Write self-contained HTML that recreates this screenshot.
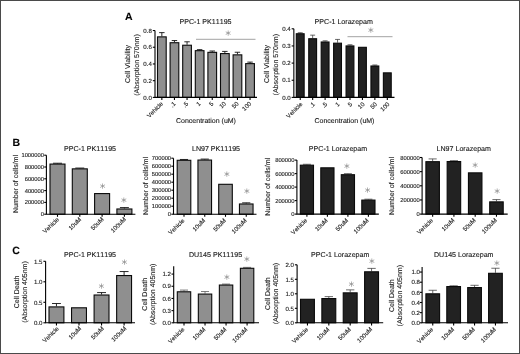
<!DOCTYPE html>
<html><head><meta charset="utf-8"><title>Figure</title>
<style>
html,body{margin:0;padding:0;background:#fff;}
body{width:520px;height:354px;overflow:hidden;position:relative;}
text.t{stroke:#1a1a1a;stroke-width:0.12px;}
svg{text-rendering:geometricPrecision;font-kerning:none;display:block;position:absolute;left:0;top:0;font-family:'Liberation Sans', Arial, sans-serif;}
.frame{position:absolute;left:0;top:0;width:518px;height:352px;border:1px solid #4a4a4a;border-left-width:1px;}
</style></head><body>
<svg width="520" height="354" viewBox="0 0 520 354" font-family='"Liberation Sans", Arial, sans-serif'>
<path d="M161.85 36.37V32.61M159.13 32.61H164.57" stroke="#111" stroke-width="0.9" fill="none"/>
<rect x="157.50" y="36.87" width="8.70" height="60.53" fill="#8f8f8f" stroke="#0a0a0a" stroke-width="1.1"/>
<path d="M174.45 42.22V40.55M171.73 40.55H177.17" stroke="#111" stroke-width="0.9" fill="none"/>
<rect x="170.10" y="42.72" width="8.70" height="54.68" fill="#8f8f8f" stroke="#0a0a0a" stroke-width="1.1"/>
<path d="M187.05 44.73V41.81M184.33 41.81H189.77" stroke="#111" stroke-width="0.9" fill="none"/>
<rect x="182.70" y="45.23" width="8.70" height="52.17" fill="#8f8f8f" stroke="#0a0a0a" stroke-width="1.1"/>
<path d="M199.65 50.17V49.66M196.93 49.66H202.37" stroke="#111" stroke-width="0.9" fill="none"/>
<rect x="195.30" y="50.67" width="8.70" height="46.73" fill="#8f8f8f" stroke="#0a0a0a" stroke-width="1.1"/>
<path d="M212.25 51.84V51.00M209.53 51.00H214.97" stroke="#111" stroke-width="0.9" fill="none"/>
<rect x="207.90" y="52.34" width="8.70" height="45.06" fill="#8f8f8f" stroke="#0a0a0a" stroke-width="1.1"/>
<path d="M224.85 53.09V51.42M222.13 51.42H227.57" stroke="#111" stroke-width="0.9" fill="none"/>
<rect x="220.50" y="53.59" width="8.70" height="43.81" fill="#8f8f8f" stroke="#0a0a0a" stroke-width="1.1"/>
<path d="M237.45 54.35V52.26M234.73 52.26H240.17" stroke="#111" stroke-width="0.9" fill="none"/>
<rect x="233.10" y="54.85" width="8.70" height="42.55" fill="#8f8f8f" stroke="#0a0a0a" stroke-width="1.1"/>
<path d="M250.05 63.12V62.12M247.33 62.12H252.77" stroke="#111" stroke-width="0.9" fill="none"/>
<rect x="245.70" y="63.62" width="8.70" height="33.78" fill="#8f8f8f" stroke="#0a0a0a" stroke-width="1.1"/>
<path d="M155 30.52V97.4H257" stroke="#000" stroke-width="1.1" fill="none"/>
<path d="M152.80 97.40H155" stroke="#000" stroke-width="1.1"/>
<text x="151.8" y="99.6" font-size="6.1" text-anchor="end" font-weight="normal" fill="#1a1a1a" class="t">0.0</text>
<path d="M152.80 80.68H155" stroke="#000" stroke-width="1.1"/>
<text x="151.8" y="82.88" font-size="6.1" text-anchor="end" font-weight="normal" fill="#1a1a1a" class="t">0.2</text>
<path d="M152.80 63.96H155" stroke="#000" stroke-width="1.1"/>
<text x="151.8" y="66.16" font-size="6.1" text-anchor="end" font-weight="normal" fill="#1a1a1a" class="t">0.4</text>
<path d="M152.80 47.24H155" stroke="#000" stroke-width="1.1"/>
<text x="151.8" y="49.44" font-size="6.1" text-anchor="end" font-weight="normal" fill="#1a1a1a" class="t">0.6</text>
<path d="M152.80 30.52H155" stroke="#000" stroke-width="1.1"/>
<text x="151.8" y="32.72" font-size="6.1" text-anchor="end" font-weight="normal" fill="#1a1a1a" class="t">0.8</text>
<path d="M161.85 97.4V100.0" stroke="#000" stroke-width="1.1"/>
<text x="163.45" y="104.1" font-size="6.05" text-anchor="end" font-weight="normal" fill="#1a1a1a" transform="rotate(-45 163.45 104.1)" class="t">Vehicle</text>
<path d="M174.45 97.4V100.0" stroke="#000" stroke-width="1.1"/>
<text x="176.05" y="104.1" font-size="6.05" text-anchor="end" font-weight="normal" fill="#1a1a1a" transform="rotate(-45 176.05 104.1)" class="t">.1</text>
<path d="M187.05 97.4V100.0" stroke="#000" stroke-width="1.1"/>
<text x="188.65" y="104.1" font-size="6.05" text-anchor="end" font-weight="normal" fill="#1a1a1a" transform="rotate(-45 188.65 104.1)" class="t">.5</text>
<path d="M199.65 97.4V100.0" stroke="#000" stroke-width="1.1"/>
<text x="201.25" y="104.1" font-size="6.05" text-anchor="end" font-weight="normal" fill="#1a1a1a" transform="rotate(-45 201.25 104.1)" class="t">1</text>
<path d="M212.25 97.4V100.0" stroke="#000" stroke-width="1.1"/>
<text x="213.85" y="104.1" font-size="6.05" text-anchor="end" font-weight="normal" fill="#1a1a1a" transform="rotate(-45 213.85 104.1)" class="t">5</text>
<path d="M224.85 97.4V100.0" stroke="#000" stroke-width="1.1"/>
<text x="226.45" y="104.1" font-size="6.05" text-anchor="end" font-weight="normal" fill="#1a1a1a" transform="rotate(-45 226.45 104.1)" class="t">10</text>
<path d="M237.45 97.4V100.0" stroke="#000" stroke-width="1.1"/>
<text x="239.05" y="104.1" font-size="6.05" text-anchor="end" font-weight="normal" fill="#1a1a1a" transform="rotate(-45 239.05 104.1)" class="t">50</text>
<path d="M250.05 97.4V100.0" stroke="#000" stroke-width="1.1"/>
<text x="251.65" y="104.1" font-size="6.05" text-anchor="end" font-weight="normal" fill="#1a1a1a" transform="rotate(-45 251.65 104.1)" class="t">100</text>
<text x="205.5" y="23.5" font-size="7.1" text-anchor="middle" font-weight="normal" fill="#1a1a1a" class="t">PPC-1 PK11195</text>
<text x="130.0" y="64" font-size="7" text-anchor="middle" font-weight="normal" fill="#1a1a1a" transform="rotate(-90 130.0 64)" class="t">Cell Viability</text>
<text x="138.5" y="65" font-size="7" text-anchor="middle" font-weight="normal" fill="#1a1a1a" transform="rotate(-90 138.5 65)" class="t">(Absorption 570nm)</text>
<text x="228" y="39.0" font-size="11.5" text-anchor="middle" font-weight="normal" fill="#8a8a8a" font-family="DejaVu Sans, sans-serif">*</text>
<path d="M196 39.3H255.5" stroke="#8a8a8a" stroke-width="0.8"/>
<text x="206" y="123" font-size="7" text-anchor="middle" font-weight="normal" fill="#1a1a1a" class="t">Concentration (uM)</text>
<path d="M300.23 33.26V32.74M297.75 32.74H302.70" stroke="#3a3a3a" stroke-width="0.75" fill="none"/>
<rect x="296.30" y="33.76" width="7.85" height="63.64" fill="#222222" stroke="#0a0a0a" stroke-width="1.1"/>
<path d="M312.67 38.23V35.15M310.19 35.15H315.14" stroke="#3a3a3a" stroke-width="0.75" fill="none"/>
<rect x="308.74" y="38.73" width="7.85" height="58.67" fill="#222222" stroke="#0a0a0a" stroke-width="1.1"/>
<path d="M325.11 41.49V40.81M322.63 40.81H327.58" stroke="#3a3a3a" stroke-width="0.75" fill="none"/>
<rect x="321.18" y="41.99" width="7.85" height="55.41" fill="#222222" stroke="#0a0a0a" stroke-width="1.1"/>
<path d="M337.55 42.69V39.43M335.07 39.43H340.02" stroke="#3a3a3a" stroke-width="0.75" fill="none"/>
<rect x="333.62" y="43.19" width="7.85" height="54.21" fill="#222222" stroke="#0a0a0a" stroke-width="1.1"/>
<path d="M349.99 45.44V44.75M347.51 44.75H352.46" stroke="#3a3a3a" stroke-width="0.75" fill="none"/>
<rect x="346.06" y="45.94" width="7.85" height="51.46" fill="#222222" stroke="#0a0a0a" stroke-width="1.1"/>
<rect x="358.50" y="47.31" width="7.85" height="50.09" fill="#222222" stroke="#0a0a0a" stroke-width="1.1"/>
<path d="M374.87 65.50V64.99M372.39 64.99H377.34" stroke="#3a3a3a" stroke-width="0.75" fill="none"/>
<rect x="370.94" y="66.00" width="7.85" height="31.40" fill="#222222" stroke="#0a0a0a" stroke-width="1.1"/>
<rect x="383.38" y="72.86" width="7.85" height="24.54" fill="#222222" stroke="#0a0a0a" stroke-width="1.1"/>
<path d="M293.85 28.80V97.4H394.5" stroke="#000" stroke-width="1.1" fill="none"/>
<path d="M291.65 97.40H293.85" stroke="#000" stroke-width="1.1"/>
<text x="290.65" y="99.6" font-size="6.1" text-anchor="end" font-weight="normal" fill="#1a1a1a" class="t">0.0</text>
<path d="M291.65 80.25H293.85" stroke="#000" stroke-width="1.1"/>
<text x="290.65" y="82.45" font-size="6.1" text-anchor="end" font-weight="normal" fill="#1a1a1a" class="t">0.1</text>
<path d="M291.65 63.10H293.85" stroke="#000" stroke-width="1.1"/>
<text x="290.65" y="65.3" font-size="6.1" text-anchor="end" font-weight="normal" fill="#1a1a1a" class="t">0.2</text>
<path d="M291.65 45.95H293.85" stroke="#000" stroke-width="1.1"/>
<text x="290.65" y="48.15" font-size="6.1" text-anchor="end" font-weight="normal" fill="#1a1a1a" class="t">0.3</text>
<path d="M291.65 28.80H293.85" stroke="#000" stroke-width="1.1"/>
<text x="290.65" y="31.0" font-size="6.1" text-anchor="end" font-weight="normal" fill="#1a1a1a" class="t">0.4</text>
<path d="M300.23 97.4V100.0" stroke="#000" stroke-width="1.1"/>
<text x="302.83" y="104.6" font-size="6.05" text-anchor="end" font-weight="normal" fill="#1a1a1a" transform="rotate(-45 302.83 104.6)" class="t">Vehicle</text>
<path d="M312.67 97.4V100.0" stroke="#000" stroke-width="1.1"/>
<text x="315.27" y="104.6" font-size="6.05" text-anchor="end" font-weight="normal" fill="#1a1a1a" transform="rotate(-45 315.27 104.6)" class="t">.1</text>
<path d="M325.11 97.4V100.0" stroke="#000" stroke-width="1.1"/>
<text x="327.71" y="104.6" font-size="6.05" text-anchor="end" font-weight="normal" fill="#1a1a1a" transform="rotate(-45 327.71 104.6)" class="t">.5</text>
<path d="M337.55 97.4V100.0" stroke="#000" stroke-width="1.1"/>
<text x="340.15" y="104.6" font-size="6.05" text-anchor="end" font-weight="normal" fill="#1a1a1a" transform="rotate(-45 340.15 104.6)" class="t">1</text>
<path d="M349.99 97.4V100.0" stroke="#000" stroke-width="1.1"/>
<text x="352.59" y="104.6" font-size="6.05" text-anchor="end" font-weight="normal" fill="#1a1a1a" transform="rotate(-45 352.59 104.6)" class="t">5</text>
<path d="M362.43 97.4V100.0" stroke="#000" stroke-width="1.1"/>
<text x="365.03" y="104.6" font-size="6.05" text-anchor="end" font-weight="normal" fill="#1a1a1a" transform="rotate(-45 365.03 104.6)" class="t">10</text>
<path d="M374.87 97.4V100.0" stroke="#000" stroke-width="1.1"/>
<text x="377.47" y="104.6" font-size="6.05" text-anchor="end" font-weight="normal" fill="#1a1a1a" transform="rotate(-45 377.47 104.6)" class="t">50</text>
<path d="M387.31 97.4V100.0" stroke="#000" stroke-width="1.1"/>
<text x="389.91" y="104.6" font-size="6.05" text-anchor="end" font-weight="normal" fill="#1a1a1a" transform="rotate(-45 389.91 104.6)" class="t">100</text>
<text x="343.75" y="23.5" font-size="7.1" text-anchor="middle" font-weight="normal" fill="#1a1a1a" class="t">PPC-1 Lorazepam</text>
<text x="269.4" y="64" font-size="7" text-anchor="middle" font-weight="normal" fill="#1a1a1a" transform="rotate(-90 269.4 64)" class="t">Cell Viability</text>
<text x="277.8" y="64.7" font-size="7" text-anchor="middle" font-weight="normal" fill="#1a1a1a" transform="rotate(-90 277.8 64.7)" class="t">(Absorption 570nm)</text>
<text x="370.8" y="35.5" font-size="11.5" text-anchor="middle" font-weight="normal" fill="#8a8a8a" font-family="DejaVu Sans, sans-serif">*</text>
<path d="M347.5 36.7H392.5" stroke="#8a8a8a" stroke-width="0.8"/>
<text x="344.5" y="123" font-size="7" text-anchor="middle" font-weight="normal" fill="#1a1a1a" class="t">Concentration (uM)</text>
<path d="M57.50 163.58V163.22M53.02 163.22H61.98" stroke="#111" stroke-width="0.9" fill="none"/>
<rect x="50.00" y="164.08" width="15.00" height="50.12" fill="#8f8f8f" stroke="#0a0a0a" stroke-width="1.1"/>
<path d="M79.80 168.36V168.06M75.32 168.06H84.28" stroke="#111" stroke-width="0.9" fill="none"/>
<rect x="72.30" y="168.86" width="15.00" height="45.34" fill="#8f8f8f" stroke="#0a0a0a" stroke-width="1.1"/>
<rect x="94.60" y="193.58" width="15.00" height="20.62" fill="#8f8f8f" stroke="#0a0a0a" stroke-width="1.1"/>
<path d="M124.40 208.48V207.59M119.92 207.59H128.88" stroke="#111" stroke-width="0.9" fill="none"/>
<rect x="116.90" y="208.98" width="15.00" height="5.22" fill="#8f8f8f" stroke="#0a0a0a" stroke-width="1.1"/>
<path d="M46.4 155.20V214.2H135.4" stroke="#000" stroke-width="1.1" fill="none"/>
<path d="M44.20 214.20H46.4" stroke="#000" stroke-width="1.1"/>
<text x="44.0" y="216.29" font-size="5.8" text-anchor="end" font-weight="normal" fill="#1a1a1a" class="t">0</text>
<path d="M44.20 202.40H46.4" stroke="#000" stroke-width="1.1"/>
<text x="44.0" y="204.49" font-size="5.8" text-anchor="end" font-weight="normal" fill="#1a1a1a" class="t">200000</text>
<path d="M44.20 190.60H46.4" stroke="#000" stroke-width="1.1"/>
<text x="44.0" y="192.69" font-size="5.8" text-anchor="end" font-weight="normal" fill="#1a1a1a" class="t">400000</text>
<path d="M44.20 178.80H46.4" stroke="#000" stroke-width="1.1"/>
<text x="44.0" y="180.89" font-size="5.8" text-anchor="end" font-weight="normal" fill="#1a1a1a" class="t">600000</text>
<path d="M44.20 167.00H46.4" stroke="#000" stroke-width="1.1"/>
<text x="44.0" y="169.09" font-size="5.8" text-anchor="end" font-weight="normal" fill="#1a1a1a" class="t">800000</text>
<path d="M44.20 155.20H46.4" stroke="#000" stroke-width="1.1"/>
<text x="44.0" y="157.29" font-size="5.8" text-anchor="end" font-weight="normal" fill="#1a1a1a" class="t">1000000</text>
<path d="M57.50 214.2V216.79999999999998" stroke="#000" stroke-width="1.1"/>
<text x="59.4" y="219.8" font-size="6.05" text-anchor="end" font-weight="normal" fill="#1a1a1a" transform="rotate(-45 59.4 219.8)" class="t">Vehicle</text>
<path d="M79.80 214.2V216.79999999999998" stroke="#000" stroke-width="1.1"/>
<text x="81.7" y="219.8" font-size="6.05" text-anchor="end" font-weight="normal" fill="#1a1a1a" transform="rotate(-45 81.7 219.8)" class="t">10uM</text>
<path d="M102.10 214.2V216.79999999999998" stroke="#000" stroke-width="1.1"/>
<text x="104.0" y="219.8" font-size="6.05" text-anchor="end" font-weight="normal" fill="#1a1a1a" transform="rotate(-45 104.0 219.8)" class="t">50uM</text>
<path d="M124.40 214.2V216.79999999999998" stroke="#000" stroke-width="1.1"/>
<text x="126.3" y="219.8" font-size="6.05" text-anchor="end" font-weight="normal" fill="#1a1a1a" transform="rotate(-45 126.3 219.8)" class="t">100uM</text>
<text x="90" y="151.0" font-size="7.1" text-anchor="middle" font-weight="normal" fill="#1a1a1a" class="t">PPC-1 PK11195</text>
<text x="17.8" y="184" font-size="7" text-anchor="middle" font-weight="normal" fill="#1a1a1a" transform="rotate(-90 17.8 184)" class="t">Number of cells/ml</text>
<text x="102.5" y="191.5" font-size="11.5" text-anchor="middle" font-weight="normal" fill="#8a8a8a" font-family="DejaVu Sans, sans-serif">*</text>
<text x="123.75" y="206.0" font-size="11.5" text-anchor="middle" font-weight="normal" fill="#8a8a8a" font-family="DejaVu Sans, sans-serif">*</text>
<path d="M184.00 159.80V159.48M179.91 159.48H188.09" stroke="#111" stroke-width="0.9" fill="none"/>
<rect x="177.20" y="160.30" width="13.60" height="53.90" fill="#8f8f8f" stroke="#0a0a0a" stroke-width="1.1"/>
<path d="M204.75 159.56V159.08M200.66 159.08H208.84" stroke="#111" stroke-width="0.9" fill="none"/>
<rect x="197.95" y="160.06" width="13.60" height="54.14" fill="#8f8f8f" stroke="#0a0a0a" stroke-width="1.1"/>
<rect x="218.70" y="184.30" width="13.60" height="29.90" fill="#8f8f8f" stroke="#0a0a0a" stroke-width="1.1"/>
<path d="M246.25 203.48V202.84M242.16 202.84H250.34" stroke="#111" stroke-width="0.9" fill="none"/>
<rect x="239.45" y="203.98" width="13.60" height="10.22" fill="#8f8f8f" stroke="#0a0a0a" stroke-width="1.1"/>
<path d="M173.5 158.20V214.2H256.5" stroke="#000" stroke-width="1.1" fill="none"/>
<path d="M171.30 214.20H173.5" stroke="#000" stroke-width="1.1"/>
<text x="171.1" y="216.29" font-size="5.8" text-anchor="end" font-weight="normal" fill="#1a1a1a" class="t">0</text>
<path d="M171.30 206.20H173.5" stroke="#000" stroke-width="1.1"/>
<text x="171.1" y="208.29" font-size="5.8" text-anchor="end" font-weight="normal" fill="#1a1a1a" class="t">100000</text>
<path d="M171.30 198.20H173.5" stroke="#000" stroke-width="1.1"/>
<text x="171.1" y="200.29" font-size="5.8" text-anchor="end" font-weight="normal" fill="#1a1a1a" class="t">200000</text>
<path d="M171.30 190.20H173.5" stroke="#000" stroke-width="1.1"/>
<text x="171.1" y="192.29" font-size="5.8" text-anchor="end" font-weight="normal" fill="#1a1a1a" class="t">300000</text>
<path d="M171.30 182.20H173.5" stroke="#000" stroke-width="1.1"/>
<text x="171.1" y="184.29" font-size="5.8" text-anchor="end" font-weight="normal" fill="#1a1a1a" class="t">400000</text>
<path d="M171.30 174.20H173.5" stroke="#000" stroke-width="1.1"/>
<text x="171.1" y="176.29" font-size="5.8" text-anchor="end" font-weight="normal" fill="#1a1a1a" class="t">500000</text>
<path d="M171.30 166.20H173.5" stroke="#000" stroke-width="1.1"/>
<text x="171.1" y="168.29" font-size="5.8" text-anchor="end" font-weight="normal" fill="#1a1a1a" class="t">600000</text>
<path d="M171.30 158.20H173.5" stroke="#000" stroke-width="1.1"/>
<text x="171.1" y="160.29" font-size="5.8" text-anchor="end" font-weight="normal" fill="#1a1a1a" class="t">700000</text>
<path d="M184.00 214.2V216.79999999999998" stroke="#000" stroke-width="1.1"/>
<text x="184.9" y="221.0" font-size="6.05" text-anchor="end" font-weight="normal" fill="#1a1a1a" transform="rotate(-45 184.9 221.0)" class="t">Vehicle</text>
<path d="M204.75 214.2V216.79999999999998" stroke="#000" stroke-width="1.1"/>
<text x="205.65" y="221.0" font-size="6.05" text-anchor="end" font-weight="normal" fill="#1a1a1a" transform="rotate(-45 205.65 221.0)" class="t">10uM</text>
<path d="M225.50 214.2V216.79999999999998" stroke="#000" stroke-width="1.1"/>
<text x="226.4" y="221.0" font-size="6.05" text-anchor="end" font-weight="normal" fill="#1a1a1a" transform="rotate(-45 226.4 221.0)" class="t">50uM</text>
<path d="M246.25 214.2V216.79999999999998" stroke="#000" stroke-width="1.1"/>
<text x="247.15" y="221.0" font-size="6.05" text-anchor="end" font-weight="normal" fill="#1a1a1a" transform="rotate(-45 247.15 221.0)" class="t">100uM</text>
<text x="216" y="151.0" font-size="7.1" text-anchor="middle" font-weight="normal" fill="#1a1a1a" class="t">LN97 PK11195</text>
<text x="147.6" y="186" font-size="7" text-anchor="middle" font-weight="normal" fill="#1a1a1a" transform="rotate(-90 147.6 186)" class="t">Number of cells/ml</text>
<text x="226.75" y="179.75" font-size="11.5" text-anchor="middle" font-weight="normal" fill="#8a8a8a" font-family="DejaVu Sans, sans-serif">*</text>
<text x="246.75" y="197.25" font-size="11.5" text-anchor="middle" font-weight="normal" fill="#8a8a8a" font-family="DejaVu Sans, sans-serif">*</text>
<path d="M306.90 164.69V164.28M302.92 164.28H310.88" stroke="#3a3a3a" stroke-width="0.75" fill="none"/>
<rect x="300.30" y="165.19" width="13.20" height="48.91" fill="#222222" stroke="#0a0a0a" stroke-width="1.1"/>
<rect x="320.80" y="167.82" width="13.20" height="46.28" fill="#222222" stroke="#0a0a0a" stroke-width="1.1"/>
<path d="M347.90 174.21V173.67M343.92 173.67H351.88" stroke="#3a3a3a" stroke-width="0.75" fill="none"/>
<rect x="341.30" y="174.71" width="13.20" height="39.39" fill="#222222" stroke="#0a0a0a" stroke-width="1.1"/>
<path d="M368.40 199.59V199.18M364.42 199.18H372.38" stroke="#3a3a3a" stroke-width="0.75" fill="none"/>
<rect x="361.80" y="200.09" width="13.20" height="14.01" fill="#222222" stroke="#0a0a0a" stroke-width="1.1"/>
<path d="M296.9 160.10V214.1H378.85" stroke="#000" stroke-width="1.1" fill="none"/>
<path d="M294.70 214.10H296.9" stroke="#000" stroke-width="1.1"/>
<text x="294.5" y="216.19" font-size="5.8" text-anchor="end" font-weight="normal" fill="#1a1a1a" class="t">0</text>
<path d="M294.70 200.60H296.9" stroke="#000" stroke-width="1.1"/>
<text x="294.5" y="202.69" font-size="5.8" text-anchor="end" font-weight="normal" fill="#1a1a1a" class="t">200000</text>
<path d="M294.70 187.10H296.9" stroke="#000" stroke-width="1.1"/>
<text x="294.5" y="189.19" font-size="5.8" text-anchor="end" font-weight="normal" fill="#1a1a1a" class="t">400000</text>
<path d="M294.70 173.60H296.9" stroke="#000" stroke-width="1.1"/>
<text x="294.5" y="175.69" font-size="5.8" text-anchor="end" font-weight="normal" fill="#1a1a1a" class="t">600000</text>
<path d="M294.70 160.10H296.9" stroke="#000" stroke-width="1.1"/>
<text x="294.5" y="162.19" font-size="5.8" text-anchor="end" font-weight="normal" fill="#1a1a1a" class="t">800000</text>
<path d="M306.90 214.1V216.7" stroke="#000" stroke-width="1.1"/>
<text x="307.6" y="220.9" font-size="6.05" text-anchor="end" font-weight="normal" fill="#1a1a1a" transform="rotate(-45 307.6 220.9)" class="t">Vehicle</text>
<path d="M327.40 214.1V216.7" stroke="#000" stroke-width="1.1"/>
<text x="328.1" y="220.9" font-size="6.05" text-anchor="end" font-weight="normal" fill="#1a1a1a" transform="rotate(-45 328.1 220.9)" class="t">10uM</text>
<path d="M347.90 214.1V216.7" stroke="#000" stroke-width="1.1"/>
<text x="348.6" y="220.9" font-size="6.05" text-anchor="end" font-weight="normal" fill="#1a1a1a" transform="rotate(-45 348.6 220.9)" class="t">50uM</text>
<path d="M368.40 214.1V216.7" stroke="#000" stroke-width="1.1"/>
<text x="369.1" y="220.9" font-size="6.05" text-anchor="end" font-weight="normal" fill="#1a1a1a" transform="rotate(-45 369.1 220.9)" class="t">100uM</text>
<text x="338" y="151.0" font-size="7.1" text-anchor="middle" font-weight="normal" fill="#1a1a1a" class="t">PPC-1 Lorazepam</text>
<text x="269.9" y="186.8" font-size="7" text-anchor="middle" font-weight="normal" fill="#1a1a1a" transform="rotate(-90 269.9 186.8)" class="t">Number of cells/ml</text>
<text x="346.75" y="172.4" font-size="11.5" text-anchor="middle" font-weight="normal" fill="#8a8a8a" font-family="DejaVu Sans, sans-serif">*</text>
<text x="367.5" y="196.2" font-size="11.5" text-anchor="middle" font-weight="normal" fill="#8a8a8a" font-family="DejaVu Sans, sans-serif">*</text>
<path d="M432.65 161.18V158.91M428.59 158.91H436.71" stroke="#3a3a3a" stroke-width="0.75" fill="none"/>
<rect x="425.90" y="161.68" width="13.50" height="52.42" fill="#222222" stroke="#0a0a0a" stroke-width="1.1"/>
<path d="M453.92 161.04V160.68M449.86 160.68H457.98" stroke="#3a3a3a" stroke-width="0.75" fill="none"/>
<rect x="447.17" y="161.54" width="13.50" height="52.56" fill="#222222" stroke="#0a0a0a" stroke-width="1.1"/>
<rect x="468.44" y="172.86" width="13.50" height="41.24" fill="#222222" stroke="#0a0a0a" stroke-width="1.1"/>
<path d="M496.46 201.37V199.60M492.40 199.60H500.52" stroke="#3a3a3a" stroke-width="0.75" fill="none"/>
<rect x="489.71" y="201.87" width="13.50" height="12.23" fill="#222222" stroke="#0a0a0a" stroke-width="1.1"/>
<path d="M422.1 157.50V214.1H507.7" stroke="#000" stroke-width="1.1" fill="none"/>
<path d="M419.90 214.10H422.1" stroke="#000" stroke-width="1.1"/>
<text x="419.7" y="216.19" font-size="5.8" text-anchor="end" font-weight="normal" fill="#1a1a1a" class="t">0</text>
<path d="M419.90 199.95H422.1" stroke="#000" stroke-width="1.1"/>
<text x="419.7" y="202.04" font-size="5.8" text-anchor="end" font-weight="normal" fill="#1a1a1a" class="t">200000</text>
<path d="M419.90 185.80H422.1" stroke="#000" stroke-width="1.1"/>
<text x="419.7" y="187.89" font-size="5.8" text-anchor="end" font-weight="normal" fill="#1a1a1a" class="t">400000</text>
<path d="M419.90 171.65H422.1" stroke="#000" stroke-width="1.1"/>
<text x="419.7" y="173.74" font-size="5.8" text-anchor="end" font-weight="normal" fill="#1a1a1a" class="t">600000</text>
<path d="M419.90 157.50H422.1" stroke="#000" stroke-width="1.1"/>
<text x="419.7" y="159.59" font-size="5.8" text-anchor="end" font-weight="normal" fill="#1a1a1a" class="t">800000</text>
<path d="M432.65 214.1V216.7" stroke="#000" stroke-width="1.1"/>
<text x="433.45" y="220.8" font-size="6.05" text-anchor="end" font-weight="normal" fill="#1a1a1a" transform="rotate(-45 433.45 220.8)" class="t">Vehicle</text>
<path d="M453.92 214.1V216.7" stroke="#000" stroke-width="1.1"/>
<text x="454.72" y="220.8" font-size="6.05" text-anchor="end" font-weight="normal" fill="#1a1a1a" transform="rotate(-45 454.72 220.8)" class="t">10uM</text>
<path d="M475.19 214.1V216.7" stroke="#000" stroke-width="1.1"/>
<text x="475.99" y="220.8" font-size="6.05" text-anchor="end" font-weight="normal" fill="#1a1a1a" transform="rotate(-45 475.99 220.8)" class="t">50uM</text>
<path d="M496.46 214.1V216.7" stroke="#000" stroke-width="1.1"/>
<text x="497.26" y="220.8" font-size="6.05" text-anchor="end" font-weight="normal" fill="#1a1a1a" transform="rotate(-45 497.26 220.8)" class="t">100uM</text>
<text x="463.75" y="151.0" font-size="7.1" text-anchor="middle" font-weight="normal" fill="#1a1a1a" class="t">LN97 Lorazepam</text>
<text x="394" y="186" font-size="7" text-anchor="middle" font-weight="normal" fill="#1a1a1a" transform="rotate(-90 394 186)" class="t">Number of cells/ml</text>
<text x="475" y="171.0" font-size="11.5" text-anchor="middle" font-weight="normal" fill="#8a8a8a" font-family="DejaVu Sans, sans-serif">*</text>
<text x="497" y="197.25" font-size="11.5" text-anchor="middle" font-weight="normal" fill="#8a8a8a" font-family="DejaVu Sans, sans-serif">*</text>
<path d="M56.45 306.40V303.53M52.00 303.53H60.90" stroke="#111" stroke-width="0.9" fill="none"/>
<rect x="49.00" y="306.90" width="14.90" height="15.90" fill="#8f8f8f" stroke="#0a0a0a" stroke-width="1.1"/>
<rect x="71.55" y="307.80" width="14.90" height="15.00" fill="#8f8f8f" stroke="#0a0a0a" stroke-width="1.1"/>
<path d="M101.55 294.51V292.58M97.10 292.58H106.00" stroke="#111" stroke-width="0.9" fill="none"/>
<rect x="94.10" y="295.01" width="14.90" height="27.79" fill="#8f8f8f" stroke="#0a0a0a" stroke-width="1.1"/>
<path d="M124.10 275.04V271.55M119.65 271.55H128.55" stroke="#111" stroke-width="0.9" fill="none"/>
<rect x="116.65" y="275.54" width="14.90" height="47.26" fill="#8f8f8f" stroke="#0a0a0a" stroke-width="1.1"/>
<path d="M45.6 261.30V322.8H135" stroke="#000" stroke-width="1.1" fill="none"/>
<path d="M43.40 322.80H45.6" stroke="#000" stroke-width="1.1"/>
<text x="42.4" y="325.0" font-size="6.1" text-anchor="end" font-weight="normal" fill="#1a1a1a" class="t">0.0</text>
<path d="M43.40 302.30H45.6" stroke="#000" stroke-width="1.1"/>
<text x="42.4" y="304.5" font-size="6.1" text-anchor="end" font-weight="normal" fill="#1a1a1a" class="t">0.5</text>
<path d="M43.40 281.80H45.6" stroke="#000" stroke-width="1.1"/>
<text x="42.4" y="284.0" font-size="6.1" text-anchor="end" font-weight="normal" fill="#1a1a1a" class="t">1.0</text>
<path d="M43.40 261.30H45.6" stroke="#000" stroke-width="1.1"/>
<text x="42.4" y="263.5" font-size="6.1" text-anchor="end" font-weight="normal" fill="#1a1a1a" class="t">1.5</text>
<path d="M56.45 322.8V325.40000000000003" stroke="#000" stroke-width="1.1"/>
<text x="59.15" y="329.0" font-size="6.05" text-anchor="end" font-weight="normal" fill="#1a1a1a" transform="rotate(-45 59.15 329.0)" class="t">Vehicle</text>
<path d="M79.00 322.8V325.40000000000003" stroke="#000" stroke-width="1.1"/>
<text x="81.7" y="329.0" font-size="6.05" text-anchor="end" font-weight="normal" fill="#1a1a1a" transform="rotate(-45 81.7 329.0)" class="t">10uM</text>
<path d="M101.55 322.8V325.40000000000003" stroke="#000" stroke-width="1.1"/>
<text x="104.25" y="329.0" font-size="6.05" text-anchor="end" font-weight="normal" fill="#1a1a1a" transform="rotate(-45 104.25 329.0)" class="t">50uM</text>
<path d="M124.10 322.8V325.40000000000003" stroke="#000" stroke-width="1.1"/>
<text x="126.8" y="329.0" font-size="6.05" text-anchor="end" font-weight="normal" fill="#1a1a1a" transform="rotate(-45 126.8 329.0)" class="t">100uM</text>
<text x="90" y="257.0" font-size="7.1" text-anchor="middle" font-weight="normal" fill="#1a1a1a" class="t">PPC-1 PK11195</text>
<text x="18.5" y="292" font-size="7" text-anchor="middle" font-weight="normal" fill="#1a1a1a" transform="rotate(-90 18.5 292)" class="t">Cell Death</text>
<text x="26.5" y="292" font-size="7" text-anchor="middle" font-weight="normal" fill="#1a1a1a" transform="rotate(-90 26.5 292)" class="t">(Absorption 405nm)</text>
<text x="101.25" y="292.0" font-size="11.5" text-anchor="middle" font-weight="normal" fill="#8a8a8a" font-family="DejaVu Sans, sans-serif">*</text>
<text x="124.25" y="268.25" font-size="11.5" text-anchor="middle" font-weight="normal" fill="#8a8a8a" font-family="DejaVu Sans, sans-serif">*</text>
<path d="M184.00 291.29V290.08M179.97 290.08H188.03" stroke="#6a6a6a" stroke-width="0.9" fill="none"/>
<rect x="177.30" y="291.79" width="13.40" height="31.01" fill="#8f8f8f" stroke="#0a0a0a" stroke-width="1.1"/>
<path d="M205.03 293.57V291.54M201.00 291.54H209.06" stroke="#6a6a6a" stroke-width="0.9" fill="none"/>
<rect x="198.33" y="294.07" width="13.40" height="28.73" fill="#8f8f8f" stroke="#0a0a0a" stroke-width="1.1"/>
<path d="M226.06 284.55V284.07M222.03 284.07H230.09" stroke="#6a6a6a" stroke-width="0.9" fill="none"/>
<rect x="219.36" y="285.05" width="13.40" height="37.75" fill="#8f8f8f" stroke="#0a0a0a" stroke-width="1.1"/>
<path d="M247.09 267.79V267.38M243.06 267.38H251.12" stroke="#6a6a6a" stroke-width="0.9" fill="none"/>
<rect x="240.39" y="268.29" width="13.40" height="54.51" fill="#8f8f8f" stroke="#0a0a0a" stroke-width="1.1"/>
<path d="M173.7 266.37V322.8H259" stroke="#000" stroke-width="1.1" fill="none"/>
<path d="M171.50 322.80H173.7" stroke="#000" stroke-width="1.1"/>
<text x="170.9" y="325.0" font-size="6.1" text-anchor="end" font-weight="normal" fill="#1a1a1a" class="t">0.0</text>
<path d="M171.50 310.62H173.7" stroke="#000" stroke-width="1.1"/>
<text x="170.9" y="312.82" font-size="6.1" text-anchor="end" font-weight="normal" fill="#1a1a1a" class="t">0.3</text>
<path d="M171.50 298.44H173.7" stroke="#000" stroke-width="1.1"/>
<text x="170.9" y="300.64" font-size="6.1" text-anchor="end" font-weight="normal" fill="#1a1a1a" class="t">0.6</text>
<path d="M171.50 286.26H173.7" stroke="#000" stroke-width="1.1"/>
<text x="170.9" y="288.46" font-size="6.1" text-anchor="end" font-weight="normal" fill="#1a1a1a" class="t">0.9</text>
<path d="M171.50 274.08H173.7" stroke="#000" stroke-width="1.1"/>
<text x="170.9" y="276.28" font-size="6.1" text-anchor="end" font-weight="normal" fill="#1a1a1a" class="t">1.2</text>
<path d="M184.00 322.8V325.40000000000003" stroke="#000" stroke-width="1.1"/>
<text x="184.8" y="329.9" font-size="6.05" text-anchor="end" font-weight="normal" fill="#1a1a1a" transform="rotate(-45 184.8 329.9)" class="t">Vehicle</text>
<path d="M205.03 322.8V325.40000000000003" stroke="#000" stroke-width="1.1"/>
<text x="205.83" y="329.9" font-size="6.05" text-anchor="end" font-weight="normal" fill="#1a1a1a" transform="rotate(-45 205.83 329.9)" class="t">10uM</text>
<path d="M226.06 322.8V325.40000000000003" stroke="#000" stroke-width="1.1"/>
<text x="226.86" y="329.9" font-size="6.05" text-anchor="end" font-weight="normal" fill="#1a1a1a" transform="rotate(-45 226.86 329.9)" class="t">50uM</text>
<path d="M247.09 322.8V325.40000000000003" stroke="#000" stroke-width="1.1"/>
<text x="247.89" y="329.9" font-size="6.05" text-anchor="end" font-weight="normal" fill="#1a1a1a" transform="rotate(-45 247.89 329.9)" class="t">100uM</text>
<text x="215.5" y="256.5" font-size="7.1" text-anchor="middle" font-weight="normal" fill="#1a1a1a" class="t">DU145 PK11195</text>
<text x="147" y="294.3" font-size="7" text-anchor="middle" font-weight="normal" fill="#1a1a1a" transform="rotate(-90 147 294.3)" class="t">Cell Death</text>
<text x="155" y="294.3" font-size="7" text-anchor="middle" font-weight="normal" fill="#1a1a1a" transform="rotate(-90 155 294.3)" class="t">(Absorption 405nm)</text>
<text x="226.75" y="283.25" font-size="11.5" text-anchor="middle" font-weight="normal" fill="#8a8a8a" font-family="DejaVu Sans, sans-serif">*</text>
<text x="246.75" y="265.0" font-size="11.5" text-anchor="middle" font-weight="normal" fill="#8a8a8a" font-family="DejaVu Sans, sans-serif">*</text>
<rect x="300.50" y="299.29" width="13.90" height="23.51" fill="#222222" stroke="#0a0a0a" stroke-width="1.1"/>
<path d="M328.82 298.06V296.61M324.65 296.61H332.99" stroke="#3a3a3a" stroke-width="0.75" fill="none"/>
<rect x="321.87" y="298.56" width="13.90" height="24.24" fill="#222222" stroke="#0a0a0a" stroke-width="1.1"/>
<path d="M350.19 292.35V289.86M346.02 289.86H354.36" stroke="#3a3a3a" stroke-width="0.75" fill="none"/>
<rect x="343.24" y="292.85" width="13.90" height="29.95" fill="#222222" stroke="#0a0a0a" stroke-width="1.1"/>
<path d="M371.56 271.30V268.40M367.39 268.40H375.73" stroke="#3a3a3a" stroke-width="0.75" fill="none"/>
<rect x="364.61" y="271.80" width="13.90" height="51.00" fill="#222222" stroke="#0a0a0a" stroke-width="1.1"/>
<path d="M297.1 264.80V322.8H383.2" stroke="#000" stroke-width="1.1" fill="none"/>
<path d="M294.90 322.80H297.1" stroke="#000" stroke-width="1.1"/>
<text x="293.9" y="325.0" font-size="6.1" text-anchor="end" font-weight="normal" fill="#1a1a1a" class="t">0.0</text>
<path d="M294.90 308.30H297.1" stroke="#000" stroke-width="1.1"/>
<text x="293.9" y="310.5" font-size="6.1" text-anchor="end" font-weight="normal" fill="#1a1a1a" class="t">0.5</text>
<path d="M294.90 293.80H297.1" stroke="#000" stroke-width="1.1"/>
<text x="293.9" y="296.0" font-size="6.1" text-anchor="end" font-weight="normal" fill="#1a1a1a" class="t">1.0</text>
<path d="M294.90 279.30H297.1" stroke="#000" stroke-width="1.1"/>
<text x="293.9" y="281.5" font-size="6.1" text-anchor="end" font-weight="normal" fill="#1a1a1a" class="t">1.5</text>
<path d="M294.90 264.80H297.1" stroke="#000" stroke-width="1.1"/>
<text x="293.9" y="267.0" font-size="6.1" text-anchor="end" font-weight="normal" fill="#1a1a1a" class="t">2.0</text>
<path d="M307.45 322.8V325.40000000000003" stroke="#000" stroke-width="1.1"/>
<text x="308.55" y="329.8" font-size="6.05" text-anchor="end" font-weight="normal" fill="#1a1a1a" transform="rotate(-45 308.55 329.8)" class="t">Vehicle</text>
<path d="M328.82 322.8V325.40000000000003" stroke="#000" stroke-width="1.1"/>
<text x="329.92" y="329.8" font-size="6.05" text-anchor="end" font-weight="normal" fill="#1a1a1a" transform="rotate(-45 329.92 329.8)" class="t">10uM</text>
<path d="M350.19 322.8V325.40000000000003" stroke="#000" stroke-width="1.1"/>
<text x="351.29" y="329.8" font-size="6.05" text-anchor="end" font-weight="normal" fill="#1a1a1a" transform="rotate(-45 351.29 329.8)" class="t">50uM</text>
<path d="M371.56 322.8V325.40000000000003" stroke="#000" stroke-width="1.1"/>
<text x="372.66" y="329.8" font-size="6.05" text-anchor="end" font-weight="normal" fill="#1a1a1a" transform="rotate(-45 372.66 329.8)" class="t">100uM</text>
<text x="340.25" y="256.5" font-size="7.1" text-anchor="middle" font-weight="normal" fill="#1a1a1a" class="t">PPC-1 Lorazepam</text>
<text x="269.6" y="293.6" font-size="7" text-anchor="middle" font-weight="normal" fill="#1a1a1a" transform="rotate(-90 269.6 293.6)" class="t">Cell Death</text>
<text x="277.7" y="293.6" font-size="7" text-anchor="middle" font-weight="normal" fill="#1a1a1a" transform="rotate(-90 277.7 293.6)" class="t">(Absorption 405nm)</text>
<text x="351.25" y="289.5" font-size="11.5" text-anchor="middle" font-weight="normal" fill="#8a8a8a" font-family="DejaVu Sans, sans-serif">*</text>
<text x="371.75" y="266.5" font-size="11.5" text-anchor="middle" font-weight="normal" fill="#8a8a8a" font-family="DejaVu Sans, sans-serif">*</text>
<path d="M432.75 293.31V290.27M428.63 290.27H436.87" stroke="#3a3a3a" stroke-width="0.75" fill="none"/>
<rect x="425.90" y="293.81" width="13.70" height="28.99" fill="#222222" stroke="#0a0a0a" stroke-width="1.1"/>
<path d="M453.65 286.06V285.80M449.53 285.80H457.77" stroke="#3a3a3a" stroke-width="0.75" fill="none"/>
<rect x="446.80" y="286.56" width="13.70" height="36.24" fill="#222222" stroke="#0a0a0a" stroke-width="1.1"/>
<path d="M474.55 287.07V285.30M470.43 285.30H478.67" stroke="#3a3a3a" stroke-width="0.75" fill="none"/>
<rect x="467.70" y="287.57" width="13.70" height="35.23" fill="#222222" stroke="#0a0a0a" stroke-width="1.1"/>
<path d="M495.45 272.81V268.24M491.33 268.24H499.57" stroke="#3a3a3a" stroke-width="0.75" fill="none"/>
<rect x="488.60" y="273.31" width="13.70" height="49.49" fill="#222222" stroke="#0a0a0a" stroke-width="1.1"/>
<path d="M422.1 266.98V322.8H508" stroke="#000" stroke-width="1.1" fill="none"/>
<path d="M419.90 322.80H422.1" stroke="#000" stroke-width="1.1"/>
<text x="420.0" y="325.0" font-size="6.1" text-anchor="end" font-weight="normal" fill="#1a1a1a" class="t">0.0</text>
<path d="M419.90 312.65H422.1" stroke="#000" stroke-width="1.1"/>
<text x="420.0" y="314.85" font-size="6.1" text-anchor="end" font-weight="normal" fill="#1a1a1a" class="t">0.2</text>
<path d="M419.90 302.50H422.1" stroke="#000" stroke-width="1.1"/>
<text x="420.0" y="304.7" font-size="6.1" text-anchor="end" font-weight="normal" fill="#1a1a1a" class="t">0.4</text>
<path d="M419.90 292.35H422.1" stroke="#000" stroke-width="1.1"/>
<text x="420.0" y="294.55" font-size="6.1" text-anchor="end" font-weight="normal" fill="#1a1a1a" class="t">0.6</text>
<path d="M419.90 282.20H422.1" stroke="#000" stroke-width="1.1"/>
<text x="420.0" y="284.4" font-size="6.1" text-anchor="end" font-weight="normal" fill="#1a1a1a" class="t">0.8</text>
<path d="M419.90 272.05H422.1" stroke="#000" stroke-width="1.1"/>
<text x="420.0" y="274.25" font-size="6.1" text-anchor="end" font-weight="normal" fill="#1a1a1a" class="t">1.0</text>
<path d="M432.75 322.8V325.40000000000003" stroke="#000" stroke-width="1.1"/>
<text x="433.65" y="329.9" font-size="6.05" text-anchor="end" font-weight="normal" fill="#1a1a1a" transform="rotate(-45 433.65 329.9)" class="t">Vehicle</text>
<path d="M453.65 322.8V325.40000000000003" stroke="#000" stroke-width="1.1"/>
<text x="454.55" y="329.9" font-size="6.05" text-anchor="end" font-weight="normal" fill="#1a1a1a" transform="rotate(-45 454.55 329.9)" class="t">10uM</text>
<path d="M474.55 322.8V325.40000000000003" stroke="#000" stroke-width="1.1"/>
<text x="475.45" y="329.9" font-size="6.05" text-anchor="end" font-weight="normal" fill="#1a1a1a" transform="rotate(-45 475.45 329.9)" class="t">50uM</text>
<path d="M495.45 322.8V325.40000000000003" stroke="#000" stroke-width="1.1"/>
<text x="496.35" y="329.9" font-size="6.05" text-anchor="end" font-weight="normal" fill="#1a1a1a" transform="rotate(-45 496.35 329.9)" class="t">100uM</text>
<text x="463.75" y="256.5" font-size="7.1" text-anchor="middle" font-weight="normal" fill="#1a1a1a" class="t">DU145 Lorazepam</text>
<text x="394.2" y="295.7" font-size="7" text-anchor="middle" font-weight="normal" fill="#1a1a1a" transform="rotate(-90 394.2 295.7)" class="t">Cell Death</text>
<text x="402.2" y="295.7" font-size="7" text-anchor="middle" font-weight="normal" fill="#1a1a1a" transform="rotate(-90 402.2 295.7)" class="t">(Absorption 405nm)</text>
<text x="496.8" y="269.1" font-size="11.5" text-anchor="middle" font-weight="normal" fill="#8a8a8a" font-family="DejaVu Sans, sans-serif">*</text>
<text x="125" y="20.2" font-size="10.5" text-anchor="start" font-weight="bold" fill="#000" class="t">A</text>
<text x="12.5" y="145.7" font-size="10.5" text-anchor="start" font-weight="bold" fill="#000" class="t">B</text>
<text x="12.3" y="253.8" font-size="10.5" text-anchor="start" font-weight="bold" fill="#000" class="t">C</text>
</svg>
<div class="frame"></div>
</body></html>
